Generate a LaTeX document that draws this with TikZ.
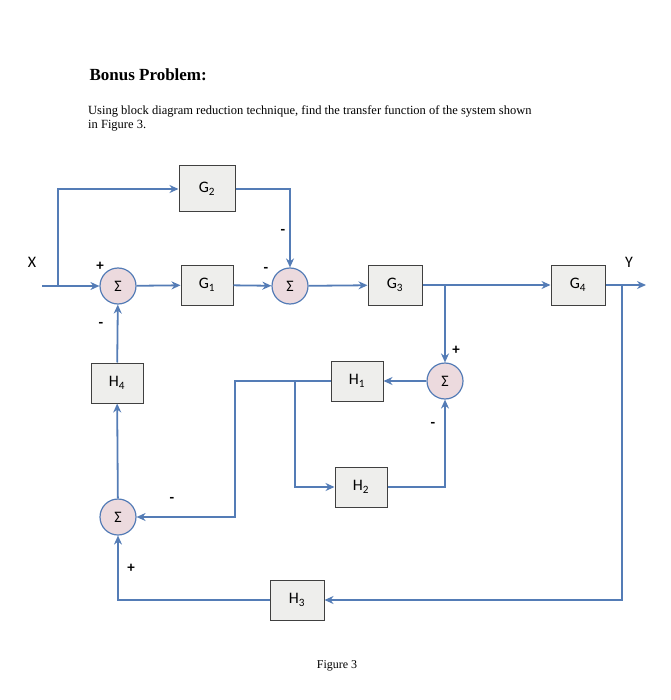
\documentclass[tikz,border=0pt]{standalone}
\usepackage{fontspec}
\setmainfont{Liberation Serif}
\newfontfamily\lbl{Carlito}
\usetikzlibrary{arrows.meta}
\definecolor{ln}{RGB}{84,124,182}
\definecolor{bx}{RGB}{238,238,236}
\definecolor{sm}{RGB}{236,218,222}
\begin{document}
\begin{tikzpicture}[x=1pt,y=-1pt,
 w/.style={draw=ln,line width=1.8pt},
 a/.style={w,-{Stealth[length=9pt,width=8pt]}},
 blk/.style={draw=black!75,line width=1pt,fill=bx,minimum width=52pt,minimum height=40pt,font=\lbl\fontsize{16}{16}\selectfont},
 sum/.style={circle,draw=ln,line width=1.2pt,fill=sm,minimum size=36pt,inner sep=0pt,font=\lbl\fontsize{16}{16}\selectfont},
 sg/.style={font=\lbl\bfseries\fontsize{15}{15}\selectfont}]
\useasboundingbox (0,0) rectangle (670,700);
\node[anchor=west,font=\bfseries\fontsize{17}{17}\selectfont] (t) at (86,75) {Bonus Problem:};
\node[anchor=north west,align=left,font=\fontsize{12.5}{14}\selectfont,inner sep=0pt] (d) at (88,106) {Using block diagram reduction technique, find the transfer function of the system shown\\in Figure 3.};
\node[font=\fontsize{12}{12}\selectfont] (f) at (337,666) {Figure 3};
\node[sum] (s1) at (118,286) {Σ};
\node[sum] (s2) at (290,286) {Σ};
\node[sum] (s3) at (445,381) {Σ};
\node[sum] (s4) at (118,517) {Σ};
\node[blk] (g1) at (207,285) {G\textsubscript{1}};
\node[blk,minimum width=56pt,minimum height=46pt] (g2) at (207,189) {G\textsubscript{2}};
\node[blk,minimum width=54pt] (g3) at (395,285) {G\textsubscript{3}};
\node[blk,minimum width=54pt] (g4) at (578,285) {G\textsubscript{4}};
\node[blk] (h1) at (357,381) {H\textsubscript{1}};
\node[blk] (h2) at (361,487) {H\textsubscript{2}};
\node[blk] (h4) at (117,383) {H\textsubscript{4}};
\node[blk,minimum width=54pt] (h3) at (297,600) {H\textsubscript{3}};
\node[font=\lbl\fontsize{16}{16}\selectfont] (x) at (32,262) {X};
\node[font=\lbl\fontsize{16}{16}\selectfont] (y) at (629,262) {Y};
\coordinate (in) at (42,286);
\coordinate (b0) at (58,286);
\coordinate (b1) at (445,285);
\coordinate (b2) at (622,285);
\coordinate (out) at (646,285);
\coordinate (b3) at (295,381);
\draw[a] (in) -- (s1);
\draw[a] (b0) |- (g2);
\draw[a] (g2.east) -| (s2);
\draw[a] (s1) -- (g1);
\draw[a] (g1) -- (s2);
\draw[a] (s2) -- (g3);
\draw[a] (g3) -- (g4);
\draw[a] (g4) -- (out);
\draw[a] (b1) -- (s3);
\draw[a] (s3) -- (h1);
\draw[a] (h1.west) -- (235,381) |- (s4);
\draw[a] (b3) |- (h2);
\draw[a] (h2.east) -| (s3);
\draw[a] (b2) |- (h3);
\draw[a] (h3.west) -| (s4);
\draw[a] (s4) -- (h4);
\draw[a] (h4) -- (s1);
\node[sg] at (100,266) {+};
\node[sg] at (101,325) {-};
\node[sg] at (283,232) {-};
\node[sg] at (266,270) {-};
\node[sg] at (456,350) {+};
\node[sg] at (433,425) {-};
\node[sg] at (172,500) {-};
\node[sg] at (131,568) {+};
\end{tikzpicture}
\end{document}
